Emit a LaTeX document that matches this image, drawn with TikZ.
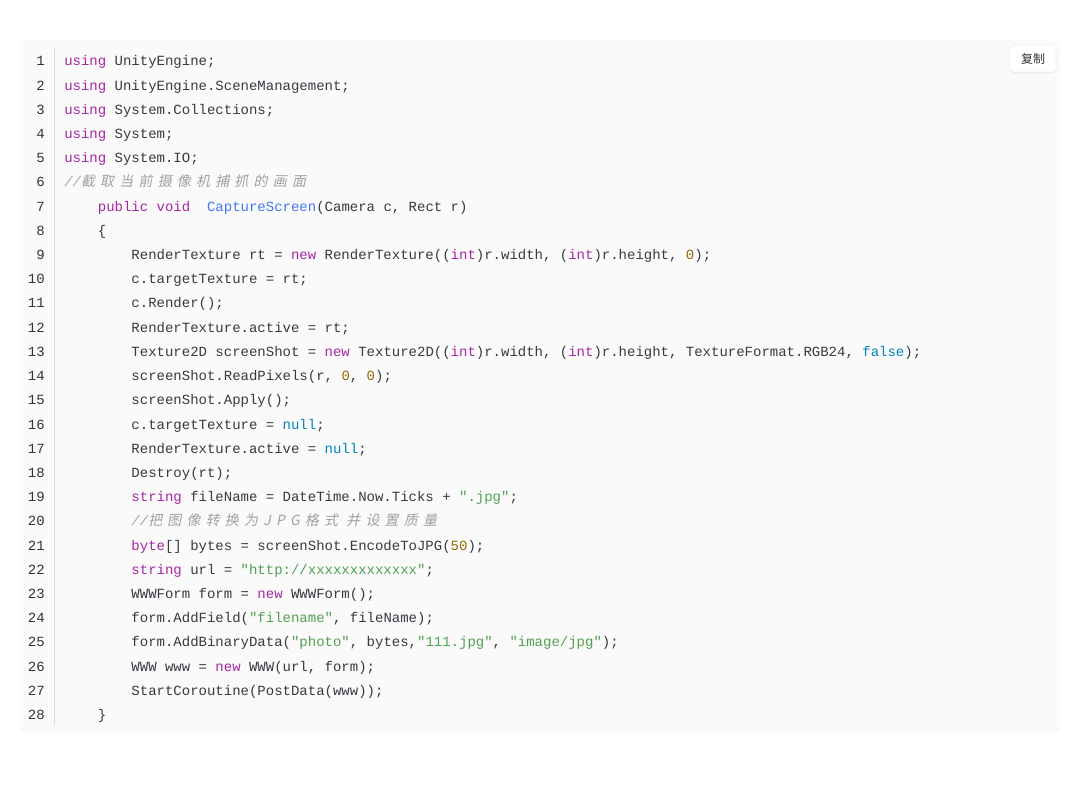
\documentclass[tikz,border=0pt]{standalone}
\usepackage{fontspec}
\setmonofont{Liberation Mono}
\newfontfamily\cjk[FakeSlant=0.2,LetterSpace=37]{Noto Sans CJK SC}
\newfontfamily\cjkup{Noto Sans CJK SC}
\usetikzlibrary{shadows}
\definecolor{bgc}{HTML}{FAFAFA}
\definecolor{txt}{HTML}{383A42}
\definecolor{kwc}{HTML}{A626A4}
\definecolor{fnc}{HTML}{4078F2}
\definecolor{stc}{HTML}{50A14F}
\definecolor{nmc}{HTML}{986801}
\definecolor{ltc}{HTML}{0184BC}
\definecolor{cmc}{HTML}{A0A1A7}
\newcommand\CKw[1]{\textcolor{kwc}{#1}}
\newcommand\CFn[1]{\textcolor{fnc}{#1}}
\newcommand\CSt[1]{\textcolor{stc}{#1}}
\newcommand\CNm[1]{\textcolor{nmc}{#1}}
\newcommand\CLt[1]{\textcolor{ltc}{#1}}
\newcommand\CLine[3]{\node[code] (l#1) at ({64+#2*8.4},{66+(#1-1)*24.2}) {#3};}
\begin{document}
\begin{tikzpicture}[x=0.75pt,y=-0.75pt,
  code/.style={anchor=base west,inner sep=0pt,font=\ttfamily\fontsize{10.5pt}{12pt}\selectfont,text=txt},
  lnum/.style={anchor=base east,inner sep=0pt,font=\ttfamily\fontsize{10.5pt}{12pt}\selectfont,text=txt!90!black}]
\useasboundingbox (0,0) rectangle (1072,788);
\fill[white] (0,0) rectangle (1072,788);
\fill[bgc] (20,40) rectangle (1060,733);
\draw[black!15] (54,48) -- (54,725);
\node[draw=black!6,fill=white,rounded corners=3pt,drop shadow={opacity=0.12,shadow xshift=0pt,shadow yshift=-1pt},inner sep=0pt,minimum height=20.25pt,minimum width=34.5pt,font=\cjkup\fontsize{9pt}{10pt}\selectfont,text=black!80] (copy) at (1033,58.5) {复制};
\foreach \i in {1,...,28} \node[lnum] (n\i) at (45,{66+(\i-1)*24.2}) {\i};
\CLine{1}{0}{\CKw{using} UnityEngine;}
\CLine{2}{0}{\CKw{using} UnityEngine.SceneManagement;}
\CLine{3}{0}{\CKw{using} System.Collections;}
\CLine{4}{0}{\CKw{using} System;}
\CLine{5}{0}{\CKw{using} System.IO;}
\node[code,text=cmc] (l6) at (64,{66+5*24.2}) {\itshape //\cjk\fontsize{10.5pt}{12pt}\selectfont 截取当前摄像机捕抓的画面};
\CLine{7}{4}{\CKw{public} \CKw{void}\ \ \CFn{CaptureScreen}(Camera c, Rect r)}
\CLine{8}{4}{\{}
\CLine{9}{8}{RenderTexture rt = \CKw{new} RenderTexture((\CKw{int})r.width, (\CKw{int})r.height, \CNm{0});}
\CLine{10}{8}{c.targetTexture = rt;}
\CLine{11}{8}{c.Render();}
\CLine{12}{8}{RenderTexture.active = rt;}
\CLine{13}{8}{Texture2D screenShot = \CKw{new} Texture2D((\CKw{int})r.width, (\CKw{int})r.height, TextureFormat.RGB24, \CLt{false});}
\CLine{14}{8}{screenShot.ReadPixels(r, \CNm{0}, \CNm{0});}
\CLine{15}{8}{screenShot.Apply();}
\CLine{16}{8}{c.targetTexture = \CLt{null};}
\CLine{17}{8}{RenderTexture.active = \CLt{null};}
\CLine{18}{8}{Destroy(rt);}
\CLine{19}{8}{\CKw{string} fileName = DateTime.Now.Ticks + \CSt{".jpg"};}
\node[code,text=cmc] (l20) at ({64+8*8.4},{66+19*24.2}) {\itshape //\cjk\fontsize{10.5pt}{12pt}\selectfont 把图像转换为JPG格式 并设置质量};
\CLine{21}{8}{\CKw{byte}[] bytes = screenShot.EncodeToJPG(\CNm{50});}
\CLine{22}{8}{\CKw{string} url = \CSt{"http://xxxxxxxxxxxxx"};}
\CLine{23}{8}{WWWForm form = \CKw{new} WWWForm();}
\CLine{24}{8}{form.AddField(\CSt{"filename"}, fileName);}
\CLine{25}{8}{form.AddBinaryData(\CSt{"photo"}, bytes,\CSt{"111.jpg"}, \CSt{"image/jpg"});}
\CLine{26}{8}{WWW www = \CKw{new} WWW(url, form);}
\CLine{27}{8}{StartCoroutine(PostData(www));}
\CLine{28}{4}{\}}
\end{tikzpicture}
\end{document}
